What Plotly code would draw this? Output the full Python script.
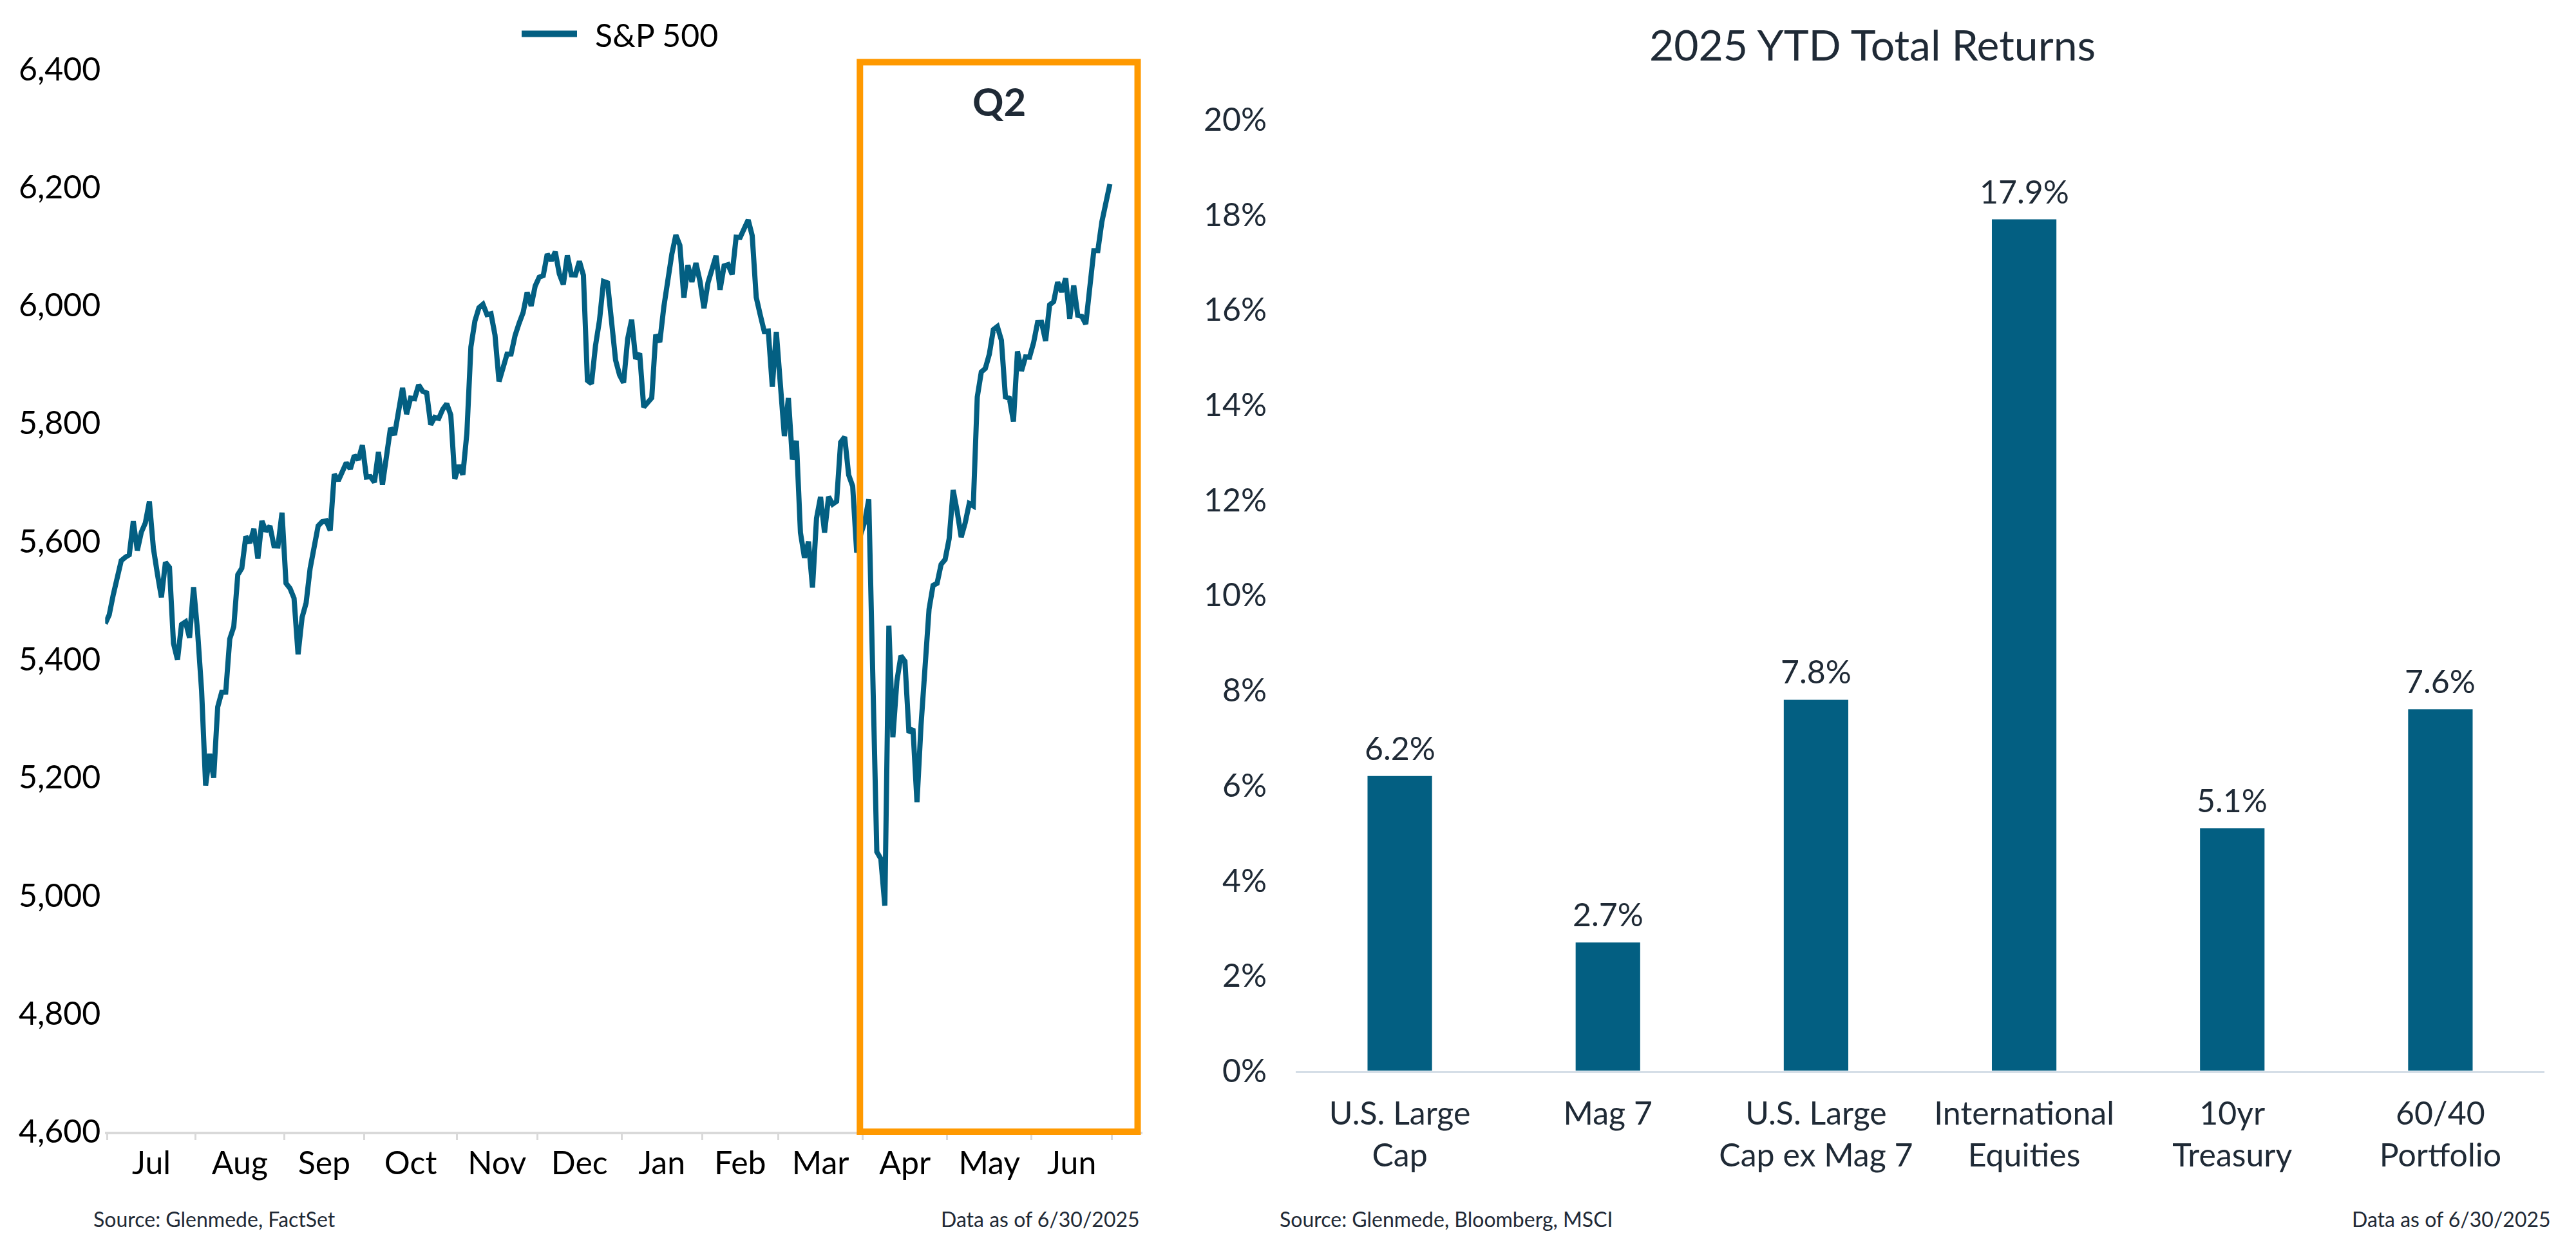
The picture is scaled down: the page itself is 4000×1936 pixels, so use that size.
import datetime
import plotly.graph_objects as go

# ---------------- DATA ----------------
dates = [
    "2024-06-28",
    "2024-07-01", "2024-07-02", "2024-07-03", "2024-07-05", "2024-07-08", "2024-07-09", "2024-07-10", "2024-07-11",
    "2024-07-12", "2024-07-15", "2024-07-16", "2024-07-17", "2024-07-18", "2024-07-19", "2024-07-22", "2024-07-23",
    "2024-07-24", "2024-07-25", "2024-07-26", "2024-07-29", "2024-07-30", "2024-07-31",
    "2024-08-01", "2024-08-02", "2024-08-05", "2024-08-06", "2024-08-07", "2024-08-08", "2024-08-09", "2024-08-12",
    "2024-08-13", "2024-08-14", "2024-08-15", "2024-08-16", "2024-08-19", "2024-08-20", "2024-08-21", "2024-08-22",
    "2024-08-23", "2024-08-26", "2024-08-27", "2024-08-28", "2024-08-29", "2024-08-30",
    "2024-09-03", "2024-09-04", "2024-09-05", "2024-09-06", "2024-09-09", "2024-09-10", "2024-09-11", "2024-09-12",
    "2024-09-13", "2024-09-16", "2024-09-17", "2024-09-18", "2024-09-19", "2024-09-20", "2024-09-23", "2024-09-24",
    "2024-09-25", "2024-09-26", "2024-09-27", "2024-09-30",
    "2024-10-01", "2024-10-02", "2024-10-03", "2024-10-04", "2024-10-07", "2024-10-08", "2024-10-09", "2024-10-10",
    "2024-10-11", "2024-10-14", "2024-10-15", "2024-10-16", "2024-10-17", "2024-10-18", "2024-10-21", "2024-10-22",
    "2024-10-23", "2024-10-24", "2024-10-25", "2024-10-28", "2024-10-29", "2024-10-30", "2024-10-31",
    "2024-11-01", "2024-11-04", "2024-11-05", "2024-11-06", "2024-11-07", "2024-11-08", "2024-11-11", "2024-11-12",
    "2024-11-13", "2024-11-14", "2024-11-15", "2024-11-18", "2024-11-19", "2024-11-20", "2024-11-21", "2024-11-22",
    "2024-11-25", "2024-11-26", "2024-11-27", "2024-11-29",
    "2024-12-02", "2024-12-03", "2024-12-04", "2024-12-05", "2024-12-06", "2024-12-09", "2024-12-10", "2024-12-11",
    "2024-12-12", "2024-12-13", "2024-12-16", "2024-12-17", "2024-12-18", "2024-12-19", "2024-12-20", "2024-12-23",
    "2024-12-24", "2024-12-26", "2024-12-27", "2024-12-30", "2024-12-31",
    "2025-01-02", "2025-01-03", "2025-01-06", "2025-01-07", "2025-01-08", "2025-01-10", "2025-01-13", "2025-01-14",
    "2025-01-15", "2025-01-16", "2025-01-17", "2025-01-21", "2025-01-22", "2025-01-23", "2025-01-24", "2025-01-27",
    "2025-01-28", "2025-01-29", "2025-01-30", "2025-01-31",
    "2025-02-03", "2025-02-04", "2025-02-05", "2025-02-06", "2025-02-07", "2025-02-10", "2025-02-11", "2025-02-12",
    "2025-02-13", "2025-02-14", "2025-02-18", "2025-02-19", "2025-02-20", "2025-02-21", "2025-02-24", "2025-02-25",
    "2025-02-26", "2025-02-27", "2025-02-28",
    "2025-03-03", "2025-03-04", "2025-03-05", "2025-03-06", "2025-03-07", "2025-03-10", "2025-03-11", "2025-03-12",
    "2025-03-13", "2025-03-14", "2025-03-17", "2025-03-18", "2025-03-19", "2025-03-20", "2025-03-21", "2025-03-24",
    "2025-03-25", "2025-03-26", "2025-03-27", "2025-03-28", "2025-03-31",
    "2025-04-01", "2025-04-02", "2025-04-03", "2025-04-04", "2025-04-07", "2025-04-08", "2025-04-09", "2025-04-10",
    "2025-04-11", "2025-04-14", "2025-04-15", "2025-04-16", "2025-04-17", "2025-04-21", "2025-04-22", "2025-04-23",
    "2025-04-24", "2025-04-25", "2025-04-28", "2025-04-29", "2025-04-30",
    "2025-05-01", "2025-05-02", "2025-05-05", "2025-05-06", "2025-05-07", "2025-05-08", "2025-05-09", "2025-05-12",
    "2025-05-13", "2025-05-14", "2025-05-15", "2025-05-16", "2025-05-19", "2025-05-20", "2025-05-21", "2025-05-22",
    "2025-05-23", "2025-05-27", "2025-05-28", "2025-05-29", "2025-05-30",
    "2025-06-02", "2025-06-03", "2025-06-04", "2025-06-05", "2025-06-06", "2025-06-09", "2025-06-10", "2025-06-11",
    "2025-06-12", "2025-06-13", "2025-06-16", "2025-06-17", "2025-06-18", "2025-06-20", "2025-06-23", "2025-06-24",
    "2025-06-25", "2025-06-26", "2025-06-27", "2025-06-30",
]

sp500 = [
    5460.5,
    5475.1, 5509.0, 5537.0, 5567.2, 5572.9, 5577.0, 5633.9, 5584.5, 5615.4, 5631.2, 5667.2, 5588.3, 5544.6, 5505.0,
    5564.4, 5555.7, 5427.1, 5399.2, 5459.1, 5463.5, 5436.4, 5522.3,
    5446.7, 5346.6, 5186.3, 5240.0, 5199.5, 5319.3, 5344.2, 5344.4, 5434.4, 5455.2, 5543.2, 5554.3, 5608.3, 5597.1,
    5620.9, 5570.6, 5634.6, 5616.8, 5625.8, 5592.2, 5592.0, 5648.4,
    5528.9, 5520.1, 5503.4, 5408.4, 5471.1, 5495.5, 5554.1, 5595.8, 5626.0, 5633.1, 5634.6, 5618.3, 5713.6, 5702.6,
    5718.6, 5732.9, 5722.3, 5745.4, 5738.2, 5762.5,
    5708.8, 5709.5, 5699.9, 5751.1, 5695.9, 5751.1, 5792.0, 5780.1, 5815.0, 5859.9, 5815.3, 5842.5, 5841.5, 5864.7,
    5854.0, 5851.2, 5797.4, 5809.9, 5808.1, 5823.5, 5832.9, 5813.7, 5705.5,
    5728.8, 5712.7, 5782.8, 5929.0, 5973.1, 5995.5, 6001.4, 5984.0, 5985.4, 5949.2, 5870.6, 5893.6, 5917.0, 5917.1,
    5948.7, 5969.3, 5987.4, 6021.6, 5998.7, 6032.4,
    6047.2, 6049.9, 6086.5, 6075.1, 6090.3, 6052.9, 6034.9, 6084.2, 6051.3, 6051.1, 6074.1, 6050.6, 5872.2, 5867.1,
    5930.9, 5974.1, 6040.0, 6037.6, 5970.8, 5906.9, 5881.6,
    5868.6, 5942.5, 5975.4, 5909.0, 5918.3, 5827.0, 5836.2, 5842.9, 5949.9, 5937.3, 5996.7, 6049.2, 6086.4, 6118.7,
    6101.2, 6012.3, 6067.7, 6039.3, 6071.2, 6040.5,
    5994.6, 6037.9, 6061.5, 6083.6, 6026.0, 6066.4, 6068.5, 6052.0, 6115.1, 6114.6, 6129.6, 6144.2, 6117.5, 6013.1,
    5983.3, 5955.3, 5956.1, 5861.6, 5954.5,
    5849.7, 5778.2, 5842.6, 5738.5, 5770.2, 5614.6, 5572.1, 5599.3, 5521.5, 5638.9, 5675.1, 5614.7, 5675.3, 5662.9,
    5667.6, 5767.6, 5776.7, 5712.2, 5693.3, 5580.9, 5611.9,
    5633.1, 5671.0, 5396.5, 5074.1, 5062.3, 4982.8, 5456.9, 5268.1, 5363.4, 5406.0, 5396.6, 5275.7, 5282.7, 5158.2,
    5287.8, 5375.9, 5484.8, 5525.2, 5528.8, 5560.8, 5569.1,
    5604.1, 5686.7, 5650.4, 5606.9, 5631.3, 5663.9, 5659.9, 5844.2, 5886.6, 5892.6, 5916.9, 5958.4, 5963.6, 5940.5,
    5844.6, 5842.0, 5802.8, 5921.5, 5888.6, 5912.2, 5911.7,
    5935.9, 5970.4, 5970.8, 5939.3, 6000.4, 6005.9, 6038.8, 6022.2, 6045.3, 5977.0, 6033.1, 5982.7, 5980.9, 5967.8,
    6025.2, 6092.2, 6092.2, 6141.0, 6173.1, 6205.0,
]

left_y_ticks = [4600, 4800, 5000, 5200, 5400, 5600, 5800, 6000, 6200, 6400]

categories = ["U.S. Large<br>Cap", "Mag 7", "U.S. Large<br>Cap ex Mag 7",
              "International<br>Equities", "10yr<br>Treasury", "60/40<br>Portfolio"]
ytd_returns = [6.2, 2.7, 7.8, 17.9, 5.1, 7.6]
right_y_ticks = [0, 2, 4, 6, 8, 10, 12, 14, 16, 18, 20]
right_y_labels = [f"{v}%" for v in right_y_ticks]

# ---------------- LAYOUT HELPERS ----------------
W, H = 4000, 1936
FONT = "Lato"
BLUE = "#035F82"
ORANGE = "#FF9900"
DARK = "#1F2A36"

# vertical calibration of the rendered page (observed = 0.9697 * requested + 30.4)
V_SCALE, V_OFF = 0.9697, 30.4


def px(x):
    return x / W


def py(y):
    return 1 - ((y - V_OFF) / V_SCALE) / H


# trading-day positions
idx = list(range(len(dates)))

# month groups (first / last trading-day index of each month)
groups = []
for i, d in enumerate(dates):
    key = d[:7]
    if not groups or groups[-1][0] != key:
        groups.append([key, i, i])
    else:
        groups[-1][2] = i
labelled = groups[1:]  # the lone June-2024 point has no label
month_centers = [(g[1] + g[2]) / 2 for g in labelled]
month_names = [datetime.date(int(g[0][:4]), int(g[0][5:7]), 1).strftime("%b") for g in labelled]
month_bounds = [g[1] - 0.5 for g in labelled] + [labelled[-1][2] + 0.5]

X_RANGE = [0, 258.1]

fig = go.Figure()

fig.add_trace(go.Scatter(
    x=idx, y=sp500, customdata=dates, mode="lines", name="S&P 500",
    line=dict(color=BLUE, width=8), showlegend=False,
    hovertemplate="%{customdata}<br>%{y:,.2f}<extra></extra>",
    xaxis="x", yaxis="y",
))

fig.add_trace(go.Bar(
    x=categories, y=ytd_returns, width=0.31, marker=dict(color=BLUE, line=dict(width=0)),
    showlegend=False, xaxis="x2", yaxis="y2",
    hovertemplate="%{x}: %{y:.1f}%<extra></extra>",
))

annotations = []
for c, v in zip(categories, ytd_returns):
    annotations.append(dict(
        x=c, y=v, xref="x2", yref="y2", text=f"{v:.1f}%", showarrow=False,
        yanchor="bottom", yshift=12, font=dict(family=FONT, size=50, color=DARK),
    ))

# titles / legend / notes
annotations += [
    dict(x=px(2907), y=py(67), xref="paper", yref="paper", text="2025 YTD Total Returns",
         showarrow=False, xanchor="center", yanchor="middle",
         font=dict(family=FONT, size=66, color=DARK)),
    dict(x=px(922), y=py(52), xref="paper", yref="paper", text="S&P 500",
         showarrow=False, xanchor="left", yanchor="middle",
         font=dict(family=FONT, size=50, color="#000000")),
    dict(x=px(1551), y=py(156), xref="paper", yref="paper", text="<b>Q2</b>",
         showarrow=False, xanchor="center", yanchor="middle",
         font=dict(family=FONT, size=60, color=DARK)),
    dict(x=px(143), y=py(1893), xref="paper", yref="paper", text="Source: Glenmede, FactSet",
         showarrow=False, xanchor="left", yanchor="middle",
         font=dict(family=FONT, size=32, color=DARK)),
    dict(x=px(1772), y=py(1893), xref="paper", yref="paper", text="Data as of 6/30/2025",
         showarrow=False, xanchor="right", yanchor="middle",
         font=dict(family=FONT, size=32, color=DARK)),
    dict(x=px(1985), y=py(1893), xref="paper", yref="paper", text="Source: Glenmede, Bloomberg, MSCI",
         showarrow=False, xanchor="left", yanchor="middle",
         font=dict(family=FONT, size=32, color=DARK)),
    dict(x=px(3963), y=py(1893), xref="paper", yref="paper", text="Data as of 6/30/2025",
         showarrow=False, xanchor="right", yanchor="middle",
         font=dict(family=FONT, size=32, color=DARK)),
]

# Q2 highlight box (trading-day positions converted to axis-domain fractions)
box_x0, box_x1 = 187.8, 256.9
shapes = [
    dict(type="rect", xref="x domain", yref="y domain",
         x0=(box_x0 - X_RANGE[0]) / (X_RANGE[1] - X_RANGE[0]),
         x1=(box_x1 - X_RANGE[0]) / (X_RANGE[1] - X_RANGE[0]),
         y0=0, y1=1.0064, line=dict(color=ORANGE, width=10), fillcolor="rgba(0,0,0,0)", layer="above"),
    # legend key
    dict(type="line", xref="paper", yref="paper", x0=px(810), x1=px(896), y0=py(51), y1=py(51),
         line=dict(color=BLUE, width=10)),
]

fig.update_layout(
    width=W, height=H,
    margin=dict(l=0, r=0, t=0, b=0),
    paper_bgcolor="white", plot_bgcolor="white",
    font=dict(family=FONT, size=50, color="#000000"),
    showlegend=False,
    xaxis=dict(
        domain=[px(163.3), px(1774)], range=X_RANGE, anchor="y",
        tickmode="array", tickvals=month_centers, ticktext=month_names,
        ticks="", showgrid=False, zeroline=False,
        showline=True, linecolor="#D9D9D9", linewidth=4,
        tickfont=dict(family=FONT, size=50, color="#000000"),
        ticklabelstandoff=2,
        minor=dict(tickmode="array", tickvals=month_bounds, ticks="outside",
                   ticklen=9, tickwidth=3, tickcolor="#D9D9D9", showgrid=False),
    ),
    yaxis=dict(
        domain=[py(1757.5), py(105.5)], range=[4600, 6400], anchor="x",
        tickmode="array", tickvals=left_y_ticks, tickformat=",",
        ticks="", showgrid=False, zeroline=False, showline=False,
        tickfont=dict(family=FONT, size=50, color="#000000"),
        ticklabelstandoff=6,
    ),
    xaxis2=dict(
        domain=[px(2012), px(3951)], anchor="y2", type="category",
        ticks="", showgrid=False, zeroline=False,
        showline=True, linecolor="#D5DEE7", linewidth=3,
        tickfont=dict(family=FONT, size=50, color=DARK),
        ticklabelstandoff=20,
    ),
    yaxis2=dict(
        domain=[py(1663), py(184)], range=[0, 20], anchor="x2",
        tickmode="array", tickvals=right_y_ticks, ticktext=right_y_labels,
        ticks="", showgrid=False, zeroline=False, showline=False,
        tickfont=dict(family=FONT, size=50, color=DARK),
        ticklabelstandoff=44,
    ),
    annotations=annotations,
    shapes=shapes,
)

fig.write_html("out.html")
